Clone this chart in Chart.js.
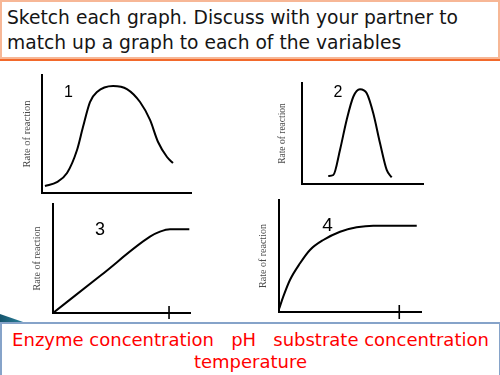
<!DOCTYPE html>
<html>
<head>
<meta charset="utf-8">
<script src="https://cdn.jsdelivr.net/npm/chart.js@4"></script>
<style>
  html, body { margin: 0; padding: 0; background: #fff; }
  body { width: 500px; height: 375px; position: relative; overflow: hidden; }
  #head { position: absolute; left: 0; top: 0; width: 496px; height: 55px; border: 2px solid #f7b796; }
  #head p { margin: 0; position: absolute; left: 5px; top: 3px; font-family: "DejaVu Sans", sans-serif;
            font-size: 18.7px; line-height: 25px; color: #151515; white-space: nowrap; }
  #rule { position: absolute; left: 0; top: 59px; width: 500px; height: 2px; background: #f2692b; }
  #wedge { position: absolute; left: 0; top: 314px; width: 26px; height: 9px;
           background: linear-gradient(90deg, #16566e, #2e86a0); clip-path: polygon(0 0, 100% 100%, 0 100%); }
  #foot { position: absolute; left: 0; top: 322px; width: 497px; height: 60px;
          border: 2px solid #86a3c9; border-bottom: none; background: #fff; }
  #foot div { position: absolute; left: 0; width: 497px; text-align: center; color: #ff0000;
              font-family: "DejaVu Sans", sans-serif; font-size: 18px; white-space: pre; }
  canvas { position: absolute; }
</style>
</head>
<body>
<div id="head"><p id="headText"></p></div>
<div id="rule"></div>

<canvas id="g1"></canvas>
<canvas id="g2"></canvas>
<canvas id="g3"></canvas>
<canvas id="g4"></canvas>

<div id="wedge"></div>
<div id="foot"><div id="foot1" style="top:5px"></div><div id="foot2" style="top:27px"></div></div>

<script>
// Slide text
const headingLines = ['Sketch each graph. Discuss with your partner to', 'match up a graph to each of the variables'];
const variableLines = ['Enzyme concentration   pH   substrate concentration', 'temperature'];
const axisTitle = 'Rate of reaction';
const graphNumbers = ['1', '2', '3', '4'];

// Graph 1: broad rise and fall
const graph1X = [0.2, 1.0, 1.68, 2.35, 2.75, 3.22, 3.69, 4.77, 5.70, 6.58, 7.25, 7.79, 8.39, 8.79];
const graph1Y = [0.59, 0.93, 1.69, 3.64, 5.59, 7.71, 8.56, 9.07, 8.81, 7.71, 6.19, 4.32, 3.05, 2.54];
// Graph 2: narrow peak
const graph2X = [2.17, 2.59, 3.14, 3.69, 4.24, 4.79, 5.35, 5.89, 6.45, 7.0, 7.41];
const graph2Y = [0.79, 0.89, 3.37, 6.34, 8.64, 9.38, 8.98, 7.0, 4.03, 1.39, 0.66];
// Graph 3: straight rise, then level
const graph3X = [0, 3.5, 7.08, 7.81, 8.54, 9.95];
const graph3Y = [0, 3.46, 7.0, 7.46, 7.68, 7.68];
// Graph 4: rises steeply, then levels off
const graph4X = [0.02, 0.30, 0.77, 1.48, 2.18, 3.12, 4.30, 5.47, 6.64, 9.70];
const graph4Y = [0.33, 1.37, 2.86, 4.35, 5.54, 6.43, 7.17, 7.56, 7.71, 7.71];

// Short strokes crossing the horizontal axes of graphs 3 and 4
const mark3X = [8.47, 8.47], mark3Y = [0.64, -0.55];
const mark4X = [8.47, 8.47], mark4Y = [0.63, -0.63];

document.getElementById('headText').innerHTML = headingLines.join('<br>');
document.getElementById('foot1').textContent = variableLines[0];
document.getElementById('foot2').textContent = variableLines[1];

const pts = (xs, ys) => xs.map((x, i) => ({ x, y: ys[i] }));

// Draws the graph number inside the plot
const numberLabel = {
  id: 'numberLabel',
  afterDatasetsDraw(chart, args, opts) {
    const { ctx, scales: { x, y } } = chart;
    ctx.save();
    ctx.font = opts.size + 'px "Liberation Sans", Arial, sans-serif';
    ctx.fillStyle = '#000';
    ctx.textAlign = 'center';
    ctx.textBaseline = 'middle';
    ctx.fillText(opts.text, x.getPixelForValue(opts.x), y.getPixelForValue(opts.y));
    ctx.restore();
  }
};

// box: y-axis position, top of y axis, right end of x axis, x-axis level,
// room left of the axis for its title, room below the axis
function sketch(id, box, curveX, curveY, markX, markY, label, titleSize) {
  const canvas = document.getElementById(id);
  const w = box.leftRoom + (box.right - box.axisX) + 4;
  const h = 4 + (box.bottom - box.top) + box.below;
  canvas.width = w; canvas.height = h;
  canvas.style.left = (box.axisX - box.leftRoom) + 'px';
  canvas.style.top = (box.top - 4) + 'px';
  canvas.style.width = w + 'px'; canvas.style.height = h + 'px';

  const datasets = [
    { data: pts(curveX, curveY), borderColor: '#000', borderWidth: 2, pointRadius: 0,
      cubicInterpolationMode: 'monotone', fill: false }
  ];
  if (markX) {
    datasets.push({ data: pts(markX, markY), borderColor: '#000', borderWidth: 1.6, pointRadius: 0,
                    tension: 0, fill: false, clip: false });
  }

  new Chart(canvas, {
    type: 'line',
    data: { datasets },
    options: {
      responsive: false, animation: false, devicePixelRatio: 1,
      layout: { padding: { top: 4, right: 4, left: 0, bottom: 0 } },
      plugins: { legend: { display: false }, tooltip: { enabled: false },
                 numberLabel: label },
      scales: {
        x: { type: 'linear', min: 0, max: 10,
             ticks: { display: false }, grid: { display: false, drawTicks: false },
             border: { color: '#000', width: 2 },
             afterFit(s) { s.height = box.below; } },
        y: { type: 'linear', min: 0, max: 10,
             ticks: { display: false }, grid: { display: false, drawTicks: false },
             border: { color: '#000', width: 2 },
             title: { display: true, text: axisTitle, color: '#4a4a4a',
                      font: { family: '"Liberation Serif", serif', size: titleSize, lineHeight: 1.2 },
                      padding: { top: 3, bottom: 0 } },
             afterFit(s) { s.width = box.leftRoom; } }
      }
    },
    plugins: [numberLabel]
  });
}

sketch('g1', { axisX: 42, top: 75, right: 191, bottom: 193, leftRoom: 24, below: 4 },
       graph1X, graph1Y, null, null, { text: graphNumbers[0], x: 1.78, y: 8.52, size: 16 }, 10.5);
sketch('g2', { axisX: 302, top: 83, right: 423, bottom: 184, leftRoom: 28, below: 4 },
       graph2X, graph2Y, null, null, { text: graphNumbers[1], x: 2.98, y: 9.06, size: 16 }, 9.5);
sketch('g3', { axisX: 53, top: 204, right: 190, bottom: 313, leftRoom: 25, below: 10 },
       graph3X, graph3Y, mark3X, mark3Y, { text: graphNumbers[2], x: 3.43, y: 7.61, size: 18 }, 10);
sketch('g4', { axisX: 279, top: 200, right: 421, bottom: 312, leftRoom: 25, below: 10 },
       graph4X, graph4Y, mark4X, mark4Y, { text: graphNumbers[3], x: 3.42, y: 7.72, size: 19 }, 10);
</script>
</body>
</html>
